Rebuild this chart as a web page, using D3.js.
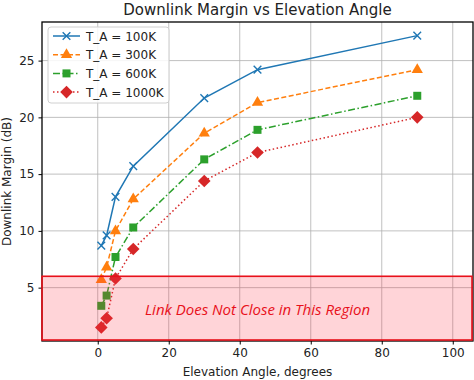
<!DOCTYPE html>
<html>
<head>
<meta charset="utf-8">
<script src="https://cdn.jsdelivr.net/npm/d3@7"></script>
<style>
body { margin: 0; background: #fff; }
text { font-family: "DejaVu Sans", sans-serif; }
</style>
</head>
<body>
<div id="chart"></div>
<script>
var width = 474;
var height = 380;
var margin = {top: 22, right: 1, bottom: 39, left: 42};

// data
var elevation = [1, 2.5, 5, 10, 30, 45, 90];
var seriesNames = ["T_A = 100K", "T_A = 300K", "T_A = 600K", "T_A = 1000K"];
var margin100 = [8.7, 9.6, 13.0, 15.7, 21.7, 24.2, 27.2];
var margin300 = [5.7, 6.8, 10.0, 12.8, 18.6, 21.3, 24.2];
var margin600 = [3.4, 4.3, 7.7, 10.3, 16.3, 18.9, 21.9];
var margin1000 = [1.5, 2.3, 5.8, 8.4, 14.4, 16.9, 20.0];
var xTicks = [0, 20, 40, 60, 80, 100];
var yTicks = [5, 10, 15, 20, 25];
var regionBounds = [0, 6];

var colors = ["#1f77b4", "#ff7f0e", "#2ca02c", "#d62728"];
var dashes = [null, "5,2.5", "7,2.5,1.5,2.5", "1.5,2.5"];
var symbols = ["x", "tri", "sq", "dia"];
var allSeries = [margin100, margin300, margin600, margin1000];

var svg = d3.select("#chart").append("svg")
    .attr("width", width)
    .attr("height", height);

var x = d3.scaleLinear().domain([-15.7, 105.7]).range([margin.left, width - margin.right]);
var y = d3.scaleLinear().domain([0.3, 28.4]).range([height - margin.bottom, margin.top]);

var plot = svg.append("g");

// grid
plot.selectAll("line.gx").data(xTicks).enter().append("line")
    .attr("x1", function(d) { return x(d); }).attr("x2", function(d) { return x(d); })
    .attr("y1", y.range()[0]).attr("y2", y.range()[1])
    .attr("stroke", "#b0b0b0").attr("stroke-width", 0.8);
plot.selectAll("line.gy").data(yTicks).enter().append("line")
    .attr("x1", x.range()[0]).attr("x2", x.range()[1])
    .attr("y1", function(d) { return y(d); }).attr("y2", function(d) { return y(d); })
    .attr("stroke", "#b0b0b0").attr("stroke-width", 0.8);

// axes
svg.append("g")
    .attr("transform", "translate(0," + y.range()[0] + ")")
    .call(d3.axisBottom(x).tickValues(xTicks).tickSize(3.5).tickPadding(4))
    .call(function(g) { g.select(".domain").remove(); })
    .selectAll("text").attr("font-size", 12).attr("fill", "#222");

svg.append("g")
    .attr("transform", "translate(" + x.range()[0] + ",0)")
    .call(d3.axisLeft(y).tickValues(yTicks).tickSize(3.5).tickPadding(4))
    .call(function(g) { g.select(".domain").remove(); })
    .selectAll("text").attr("font-size", 12).attr("fill", "#222");

// spines
svg.append("rect")
    .attr("x", x.range()[0]).attr("y", y.range()[1])
    .attr("width", x.range()[1] - x.range()[0])
    .attr("height", y.range()[0] - y.range()[1])
    .attr("fill", "none").attr("stroke", "#000").attr("stroke-width", 1.3);

// series
function drawMarker(g, kind, color) {
    if (kind == "x") {
        g.append("path").attr("d", d3.symbol().type(d3.symbolX).size(40))
            .attr("fill", "none").attr("stroke", color).attr("stroke-width", 1.4);
    } else if (kind == "tri") {
        g.append("path").attr("d", d3.symbol().type(d3.symbolTriangle).size(55))
            .attr("fill", color);
    } else if (kind == "sq") {
        g.append("path").attr("d", d3.symbol().type(d3.symbolSquare).size(64))
            .attr("fill", color);
    } else {
        g.append("path").attr("d", "M0,-6.3L6.3,0L0,6.3L-6.3,0Z")
            .attr("fill", color);
    }
}

var line = d3.line()
    .x(function(d) { return x(d[0]); })
    .y(function(d) { return y(d[1]); });

allSeries.forEach(function(vals, i) {
    var pts = elevation.map(function(e, j) { return [e, vals[j]]; });
    plot.append("path")
        .attr("d", line(pts))
        .attr("fill", "none")
        .attr("stroke", colors[i])
        .attr("stroke-width", 1.5)
        .attr("stroke-dasharray", dashes[i]);
    pts.forEach(function(p) {
        var g = plot.append("g").attr("transform", "translate(" + x(p[0]) + "," + y(p[1]) + ")");
        drawMarker(g, symbols[i], colors[i]);
    });
});

// region that doesn't close
svg.append("rect")
    .attr("x", x.range()[0])
    .attr("y", y(regionBounds[1]))
    .attr("width", x.range()[1] - x.range()[0] - 1)
    .attr("height", y(0.3) - y(regionBounds[1]) - 1)
    .attr("fill", "rgba(255,40,60,0.2)")
    .attr("stroke", "#e8101a")
    .attr("stroke-width", 1.6);

svg.append("text")
    .attr("x", x(45))
    .attr("y", y(3) + 5)
    .attr("text-anchor", "middle")
    .attr("font-size", 15)
    .attr("font-style", "italic")
    .style("font-family", "'Open Sans', sans-serif")
    .attr("fill", "#e8101a")
    .text("Link Does Not Close in This Region");

// legend
var legend = svg.append("g").attr("transform", "translate(48,27)");
legend.append("rect")
    .attr("width", 121).attr("height", 76).attr("rx", 3)
    .attr("fill", "rgba(255,255,255,0.85)")
    .attr("stroke", "#d0d0d0");
seriesNames.forEach(function(name, i) {
    var yy = 9 + i * 18.7;
    legend.append("line")
        .attr("x1", 5).attr("x2", 32).attr("y1", yy).attr("y2", yy)
        .attr("stroke", colors[i]).attr("stroke-width", 1.5)
        .attr("stroke-dasharray", dashes[i]);
    var g = legend.append("g").attr("transform", "translate(18.5," + yy + ")");
    drawMarker(g, symbols[i], colors[i]);
    legend.append("text")
        .attr("x", 38).attr("y", yy + 4.5)
        .attr("font-size", 12).attr("fill", "#222")
        .text(name);
});

// title and labels
svg.append("text")
    .attr("x", (x.range()[0] + x.range()[1]) / 2).attr("y", 15)
    .attr("text-anchor", "middle").attr("font-size", 15).attr("fill", "#222")
    .text("Downlink Margin vs Elevation Angle");

svg.append("text")
    .attr("x", (x.range()[0] + x.range()[1]) / 2).attr("y", 376)
    .attr("text-anchor", "middle").attr("font-size", 12).attr("fill", "#222")
    .text("Elevation Angle, degrees");

svg.append("text")
    .attr("transform", "translate(11," + ((y.range()[0] + y.range()[1]) / 2) + ") rotate(-90)")
    .attr("text-anchor", "middle").attr("font-size", 12).attr("fill", "#222")
    .text("Downlink Margin (dB)");
</script>
</body>
</html>
